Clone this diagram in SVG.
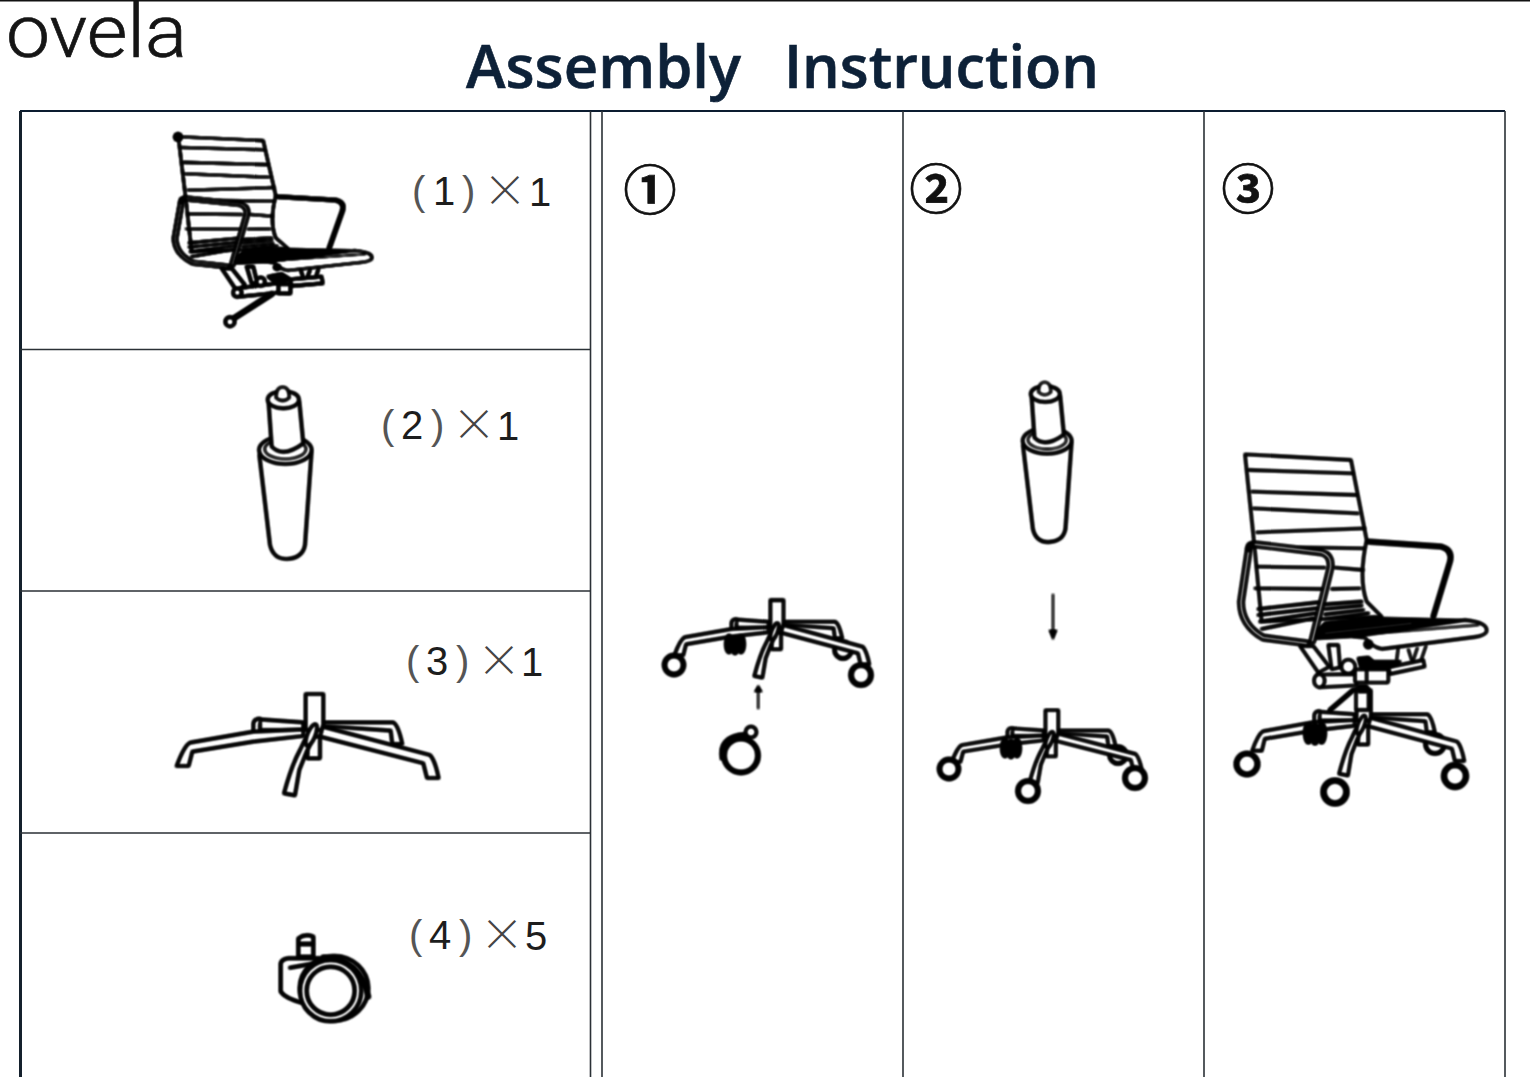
<svg xmlns="http://www.w3.org/2000/svg" width="1530" height="1077" viewBox="0 0 1530 1077">
<style>
.g{stroke:#2b3136;stroke-width:1.6;fill:none}
.f{stroke:#0c1c30;stroke-width:2;fill:none}
.a{fill:none;stroke:#0a0a0a;stroke-linejoin:round;stroke-linecap:round}
.w{fill:#fff;stroke:#0a0a0a;stroke-linejoin:round;stroke-linecap:round}
.k{fill:#0a0a0a;stroke:#0a0a0a;stroke-linejoin:round}
.wl{fill:none;stroke:#fff;stroke-linejoin:round;stroke-linecap:round}
.lbl{font-family:"Liberation Sans",sans-serif;font-size:40px;fill:#1d1d1d}
.par{fill:#555}
.x{font-family:"Noto Sans CJK SC",sans-serif;font-weight:300;font-size:44px;fill:#444}
.num{font-family:"Noto Sans CJK SC","DejaVu Sans",sans-serif;font-weight:700;font-size:53px;fill:#111;stroke:#111;stroke-width:.7;text-anchor:middle}
</style>
<defs>
<filter id="soft" filterUnits="userSpaceOnUse" x="0" y="0" width="1530" height="1077" color-interpolation-filters="sRGB">
<feGaussianBlur stdDeviation="0.8"/>
<feComponentTransfer><feFuncR type="gamma" exponent="2.6"/><feFuncG type="gamma" exponent="2.6"/><feFuncB type="gamma" exponent="2.6"/></feComponentTransfer>
</filter>
<filter id="thick" filterUnits="userSpaceOnUse" x="150" y="120" width="240" height="215" color-interpolation-filters="sRGB">
<feGaussianBlur stdDeviation="0.7"/>
<feComponentTransfer><feFuncR type="gamma" exponent="2.8"/><feFuncG type="gamma" exponent="2.8"/><feFuncB type="gamma" exponent="2.8"/></feComponentTransfer>
</filter>
<g id="base">
<path class="w" d="M300 118L430 127 430 150 300 150ZM490 127H700Q715 135 727 192H697L692 152 490 138Z"/>
<path class="w" d="M280 185V130Q283 116 300 116M302 182V150"/>
<path class="w" d="M437 150V42H490V150Z"/>
<path class="w" d="M445 170H480V235H442Z"/>
<path class="w" d="M430 148L280 155 90 188Q72 198 50 258H86L97 215 280 185 430 168Z"/>
<path class="w" d="M488 140L810 225Q825 240 836 294H801L790 250 480 170Z"/>
<path class="w" d="M449 150L420 210Q395 255 372 340L405 346 418 270 440 215 468 160Z"/>
<ellipse class="w" cx="454" cy="165" rx="12" ry="35" transform="rotate(22 454 165)"/>
</g>
<g id="cluster">
<ellipse class="k" cx="-6" cy="0" rx="3.500" ry="9" stroke-width="2"/>
<ellipse class="k" cx="0" cy="1" rx="3.500" ry="9" stroke-width="2"/>
<ellipse class="k" cx="6" cy="0" rx="3.500" ry="9" stroke-width="2"/>
</g>
<g id="cyl">
<path class="w" d="M58 240L90 510Q100 552 140 552Q188 550 195 510L215 225Z"/>
<ellipse class="w" cx="136" cy="225" rx="79" ry="42"/>
<ellipse class="w" cx="136" cy="222" rx="62" ry="30" stroke-width="5"/>
<path class="w" d="M86 85L95 215Q130 250 190 205L178 80Z"/>
<ellipse class="w" cx="130" cy="74" rx="47" ry="26"/>
<path class="w" d="M108 68Q108 36 128 36Q148 36 148 68Q128 86 108 68Z" stroke-width="6"/>
</g>
<g id="caster" stroke-width="9">
<path class="w" d="M115 110V55Q135 40 160 50V110Z"/>
<path class="a" d="M118 72H158" stroke-width="10"/>
<path class="w" d="M85 115H180L130 250Q75 235 62 215V130Q65 118 85 115Z"/>
<path class="a" d="M90 143L190 125"/>
<ellipse class="w" cx="222" cy="205" rx="103" ry="97"/>
<path class="a" d="M190 112Q300 115 325 230" stroke-width="14"/>
<circle class="w" cx="212" cy="212" r="92"/>
<circle class="w" cx="212" cy="212" r="72"/>
</g>
<g id="top">
<path class="a" d="M430 290L650 305Q684 315 675 350L625 515" stroke-width="14"/>
<path class="w" stroke-width="7" d="M60 28L378 45 425 285Q400 400 425 470L470 515 110 530 88 300Z"/>
<path class="a" stroke-width="7" d="M72 75L385 85M80 140L395 150M85 190L400 205M95 262L420 250M88 305L420 310M95 365L300 368M330 368L415 375M90 430L290 432M320 432L405 430"/>
<path class="a" stroke-width="8" d="M100 492L280 472M100 510L275 490M105 530L270 505M110 552L265 520M300 478L410 470M300 492L410 482M300 508L415 495M300 522L430 505"/>
<path class="k" stroke-width="3" d="M270 562L300 532 440 518 720 525 395 575 275 582Z"/>
<path class="wl" stroke-width="3" d="M300 565L560 535"/>
<path class="w" stroke-width="7" d="M385 575L720 525Q790 532 785 560Q780 572 750 576L470 612Q440 606 420 578Z"/>
<path class="a" stroke-width="4" d="M450 565L760 540"/>
<circle class="k" cx="430" cy="598" r="13"/>
<path class="a" stroke-width="20" d="M72 310L48 470Q48 540 115 578L245 595"/>
<path class="wl" stroke-width="7" d="M72 310L48 470Q48 540 115 578L245 595"/>
<path class="a" stroke-width="20" d="M72 310Q72 298 90 298L290 322Q322 332 316 370L262 588"/>
<path class="wl" stroke-width="7" d="M90 298L290 322Q322 332 316 370L262 588"/>
</g>
<circle id="wheel" class="w" r="10" stroke-width="4.500"/>
</defs>
<rect width="1530" height="1077" fill="#fff"/>

<g id="art" filter="url(#soft)">
<rect width="1530" height="1077" fill="#fff"/>
<g id="part-1" filter="url(#thick)">
<rect x="150" y="120" width="240" height="215" fill="#fff"/>
<g transform="translate(150 120) scale(.3333)" stroke-width="7">
<path class="w" d="M215 445L262 515 285 495 245 445ZM290 440L305 490 322 490 310 440Z"/>
<path class="a" stroke-width="7" d="M452 450L462 480M480 450L470 478M505 448L495 480"/>
<path class="w" d="M262 505L380 490 420 495V520L385 518 270 530Z"/>
<path class="w" d="M420 478L515 470 518 490 425 498Z"/>
<circle class="w" cx="262" cy="518" r="13"/>
<circle class="w" cx="332" cy="485" r="13"/>
<path class="k" d="M355 470L395 462 420 478 380 490Z"/>
<path class="a" stroke-width="14" d="M365 522L250 596"/>
<circle class="w" cx="240" cy="605" r="14"/>
<rect class="w" x="385" y="492" width="36" height="28"/>
</g>
<use href="#top" transform="translate(162.300 130.300) scale(.267 .229)"/>
<circle class="k" cx="178" cy="137" r="4"/>
</g>
<g id="part-2"><use href="#cyl" transform="translate(240 375) scale(.3333)" stroke-width="8"/></g>
<g id="part-3"><use href="#base" transform="translate(160 680) scale(.3333)" stroke-width="8"/></g>
<g id="part-4"><use href="#caster" transform="translate(260 920) scale(.3333)"/></g>

<g id="step-1">
<circle class="w" cx="843" cy="650" r="8.500" stroke-width="3.500"/>
<use href="#base" transform="translate(662 589.400) scale(.248 .255)" stroke-width="10"/>
<use href="#cluster" transform="translate(735 644)"/>
<use href="#wheel" transform="translate(674 665) scale(.95)"/>
<use href="#wheel" transform="translate(861 675)"/>
<path d="M758.300 709V690" stroke="#111" stroke-width="1.400"/>
<path d="M758.300 685L762.300 692H754.300Z" fill="#111"/>
<path class="k" stroke-width="1" d="M721 760Q716 735 745 733L755 737Q735 738 728 750Z"/>
<circle class="w" cx="751" cy="732" r="5.500" stroke-width="2.500"/>
<circle class="w" cx="741" cy="755.500" r="17" stroke-width="4.500"/>
</g>

<g id="step-2">
<use href="#cyl" transform="translate(1005 371) scale(.31)" stroke-width="8.500"/>
<path d="M1053 594V634" stroke="#111" stroke-width="1.400"/>
<path d="M1053 640L1049 630H1057Z" fill="#111"/>
<circle class="w" cx="1118" cy="755" r="8.500" stroke-width="3.500"/>
<use href="#base" transform="translate(939.700 700) scale(.242 .24)" stroke-width="10"/>
<use href="#cluster" transform="translate(1011 748)"/>
<use href="#wheel" transform="translate(949 769) scale(.95)"/>
<use href="#wheel" transform="translate(1135 778)"/>
<use href="#wheel" transform="translate(1028 791)"/>
</g>

<g id="step-3">
<circle class="w" cx="1435" cy="744" r="9.500" stroke-width="3.500"/>
<use href="#base" transform="translate(1238.600 678.600) scale(.27 .28)" stroke-width="9"/>
<use href="#cluster" transform="translate(1315 733) scale(1.1)"/>
<use href="#wheel" transform="translate(1247 764) scale(1.05)"/>
<use href="#wheel" transform="translate(1455 776) scale(1.1)"/>
<use href="#wheel" transform="translate(1335 792) scale(1.15)"/>
<g transform="translate(1290 610) scale(.3333)" stroke-width="7">
<path class="a" stroke-width="12" d="M190 240L120 300"/>
<path class="w" d="M198 235H236V300H198Z"/>
<path class="k" d="M206 228H230V245H206Z"/>
<path class="w" d="M30 108L85 188 118 170 70 108ZM115 105L125 178 150 172 145 105Z"/>
<path class="a" stroke-width="6" d="M325 112L320 150M355 118L365 150M382 114L370 150M408 108L390 160"/>
<path class="w" d="M88 194L200 192V226L88 232Z"/>
<ellipse class="w" cx="88" cy="212" rx="16" ry="20"/>
<path class="w" d="M295 172L400 150 404 170 300 192Z"/>
<circle class="w" cx="175" cy="170" r="21"/>
<path class="k" d="M205 145L235 142 250 155 330 155 300 172 215 180Z"/>
<rect class="w" x="195" y="178" width="100" height="40" rx="5"/>
<path class="a" d="M230 180V216"/>
</g>
<use href="#top" transform="translate(1225 445) scale(.3333)"/>
</g>
</g>

<g id="header">
<path d="M0 .5H1530" stroke="#111" stroke-width="2"/>
<text x="6" y="57" font-family="Roboto,'Liberation Sans',sans-serif" font-weight="300" font-size="75" fill="#151515" stroke="#151515" stroke-width=".7" textLength="181" lengthAdjust="spacingAndGlyphs">ovela</text>
<text y="88" font-family="'Open Sans','Liberation Sans',sans-serif" font-weight="600" font-size="59" fill="#0d2138" stroke="#0d2138" stroke-width=".6"><tspan x="466" textLength="275" lengthAdjust="spacingAndGlyphs">Assembly</tspan> <tspan x="784" textLength="315" lengthAdjust="spacingAndGlyphs">Instruction</tspan></text>
</g>

<g id="grid">
<path class="f" d="M20 111H1505"/>
<path d="M20.500 111V1077" stroke="#14202c" stroke-width="3"/>
<path class="g" d="M590.500 111V1077M602 111V1077M903 111V1077M1204 111V1077M1505 111V1077"/>
<path class="g" d="M20 349.500H590M20 591H590M20 833H590"/>
</g>

<g id="parts-labels">
<text class="lbl" y="205"><tspan class="par" x="412">(</tspan><tspan x="433">1</tspan><tspan class="par" x="462">)</tspan><tspan class="x" x="483" dy="2">×</tspan><tspan x="529" dy="-1">1</tspan></text>
<text class="lbl" y="439"><tspan class="par" x="381">(</tspan><tspan x="401">2</tspan><tspan class="par" x="431">)</tspan><tspan class="x" x="452" dy="2">×</tspan><tspan x="497" dy="-1">1</tspan></text>
<text class="lbl" y="675"><tspan class="par" x="406">(</tspan><tspan x="426">3</tspan><tspan class="par" x="456">)</tspan><tspan class="x" x="477" dy="2">×</tspan><tspan x="521" dy="-1">1</tspan></text>
<text class="lbl" y="949"><tspan class="par" x="409">(</tspan><tspan x="429">4</tspan><tspan class="par" x="459">)</tspan><tspan class="x" x="480" dy="2">×</tspan><tspan x="525" dy="-1">5</tspan></text>
</g>

<g id="step-numbers">
<text class="num" x="650" y="210">①</text>
<text class="num" x="936" y="209">②</text>
<text class="num" x="1248" y="209">③</text>
</g>
</svg>
